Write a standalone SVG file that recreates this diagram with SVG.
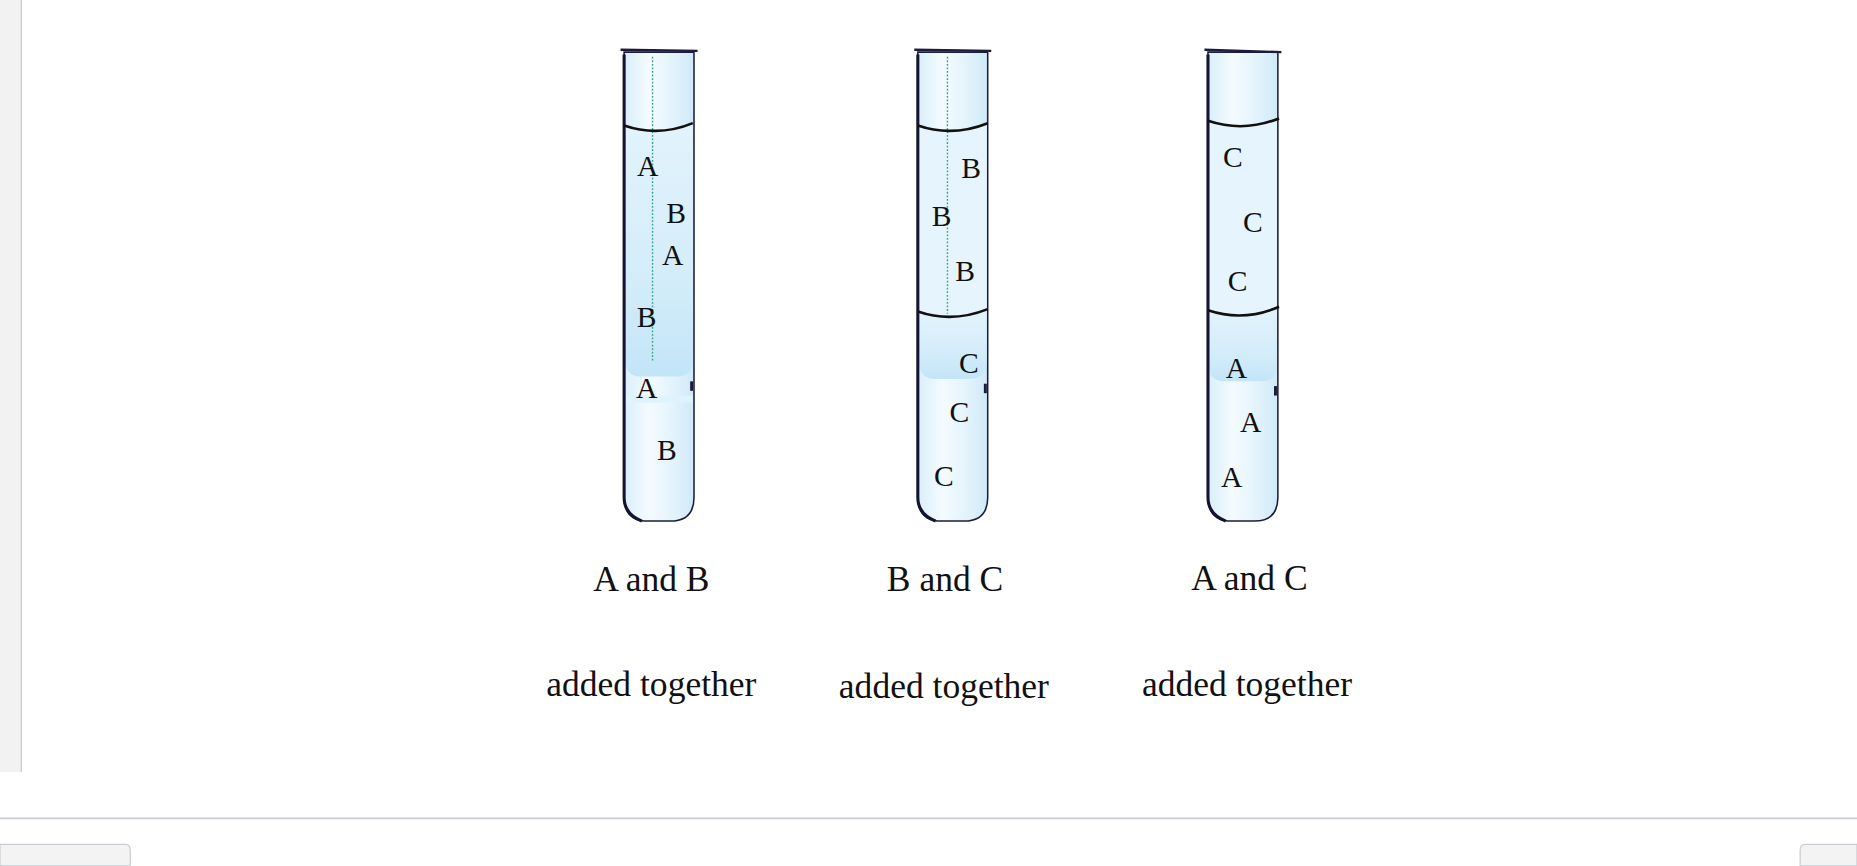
<svg xmlns="http://www.w3.org/2000/svg" width="1857" height="866" viewBox="0 0 1857 866">
<defs>
<linearGradient id="glass" x1="0" x2="1" y1="0" y2="0">
<stop offset="0" stop-color="#d9eefa"/><stop offset="0.35" stop-color="#f4fbff"/><stop offset="0.7" stop-color="#e3f3fc"/><stop offset="1" stop-color="#cfe9f8"/>
</linearGradient>
<linearGradient id="liq" x1="0" x2="0" y1="0" y2="1">
<stop offset="0" stop-color="#e2f3fc"/><stop offset="0.6" stop-color="#d4edfa"/><stop offset="1" stop-color="#c3e5f8"/>
</linearGradient>
<style>
.tube{fill:url(#glass);stroke:#1c1c3c;stroke-width:1.3}
.edge{fill:none;stroke:#141432;stroke-width:2.6}
.men{fill:none;stroke:#111;stroke-width:2.2}
.dot{stroke:#3aa58a;stroke-width:1.2;stroke-dasharray:1.5 1.5}
.t{font-family:"Liberation Serif",serif;font-size:25px;fill:#111;text-anchor:middle}
.lab{font-family:"Liberation Serif",serif;font-size:30px;fill:#111;text-anchor:middle}
</style>
</defs>
<rect width="1857" height="866" fill="#fff"/>
<g transform="scale(1.1843)">
<rect x="0" y="0" width="18" height="652" fill="#f2f2f2"/>
<line x1="18" y1="0" x2="18" y2="652" stroke="#c8c8cc" stroke-width="1"/>
<line x1="0" y1="691" x2="1568" y2="691" stroke="#c8cdd1" stroke-width="1.5"/>
<path d="M0 713 H106 Q110 713 110 718 V731 H0 Z" fill="#f3f3f3" stroke="#c8cdd1"/>
<path d="M1568 713 H1524 Q1520 713 1520 718 V731 H1568 Z" fill="#f3f3f3" stroke="#c8cdd1"/>

<g id="tube1">
<path class="tube" d="M527 44 V420 Q527 440 547 440 H566 Q586 440 586 420 V44 Z"/>
<path d="M528 106 Q556 116 585 104 V305 Q585 318 570 318 H542 Q528 318 528 305 Z" fill="url(#liq)"/>
<rect x="528" y="334" width="57" height="6" fill="#e0f2fb"/>
<line class="dot" x1="551" y1="48" x2="551" y2="305"/>
<path class="edge" d="M527 46 V420 Q527 434 542 440"/>
<line x1="524" y1="42" x2="589" y2="43" stroke="#1c1c3c" stroke-width="2"/>
<path class="men" d="M527 106 Q556 116 585 104"/>
<line x1="584" y1="322" x2="584" y2="330" stroke="#1c1c3c" stroke-width="2.5"/>
<text class="t" x="547" y="149">A</text><text class="t" x="571" y="188">B</text><text class="t" x="568" y="224">A</text>
<text class="t" x="546" y="276">B</text><text class="t" x="546" y="336">A</text><text class="t" x="563" y="388">B</text>
</g>

<g id="tube2">
<path class="tube" d="M775 44 V420 Q775 440 795 440 H814 Q834 440 834 420 V44 Z"/>
<path d="M776 263 Q804 273 833 262 V305 Q833 320 818 320 H790 Q776 320 776 305 Z" fill="url(#liq)"/>
<path d="M776 106 Q804 116 833 104 V262 Q804 273 776 263 Z" fill="#e6f5fd"/>
<line class="dot" x1="800" y1="48" x2="800" y2="265"/>
<path class="edge" d="M775 46 V420 Q775 434 790 440"/>
<line x1="772" y1="42" x2="837" y2="43" stroke="#1c1c3c" stroke-width="2"/>
<path class="men" d="M775 106 Q804 116 834 104"/>
<path class="men" d="M775 263 Q804 273 834 261"/>
<line x1="832" y1="324" x2="832" y2="332" stroke="#1c1c3c" stroke-width="2.5"/>
<text class="t" x="820" y="150">B</text><text class="t" x="795" y="191">B</text><text class="t" x="815" y="237">B</text>
<text class="t" x="818" y="315">C</text><text class="t" x="810" y="356">C</text><text class="t" x="797" y="410">C</text>
</g>

<g id="tube3">
<path class="tube" d="M1020 44 V420 Q1020 440 1040 440 H1059 Q1079 440 1079 420 V44 Z"/>
<path d="M1021 262 Q1050 272 1078 260 V310 Q1078 322 1064 322 H1035 Q1021 322 1021 310 Z" fill="url(#liq)"/>
<path d="M1021 102 Q1050 112 1078 100 V260 Q1050 272 1021 262 Z" fill="#e6f5fd"/>
<path class="edge" d="M1020 46 V420 Q1020 434 1035 440"/>
<line x1="1017" y1="42" x2="1082" y2="44" stroke="#1c1c3c" stroke-width="2"/>
<path class="men" d="M1020 102 Q1050 112 1080 100"/>
<path class="men" d="M1020 262 Q1050 272 1080 259"/>
<line x1="1077" y1="326" x2="1077" y2="334" stroke="#1c1c3c" stroke-width="2.5"/>
<text class="t" x="1041" y="141">C</text><text class="t" x="1058" y="196">C</text><text class="t" x="1045" y="246">C</text>
<text class="t" x="1044" y="319">A</text><text class="t" x="1056" y="365">A</text><text class="t" x="1040" y="411">A</text>
</g>

<g id="labels">
<text class="lab" x="550" y="499">A and B</text>
<text class="lab" x="798" y="499">B and C</text>
<text class="lab" x="1055" y="498">A and C</text>
<text class="lab" x="550" y="588">added together</text>
<text class="lab" x="797" y="589">added together</text>
<text class="lab" x="1053" y="588">added together</text>
</g>
</g>
</svg>
